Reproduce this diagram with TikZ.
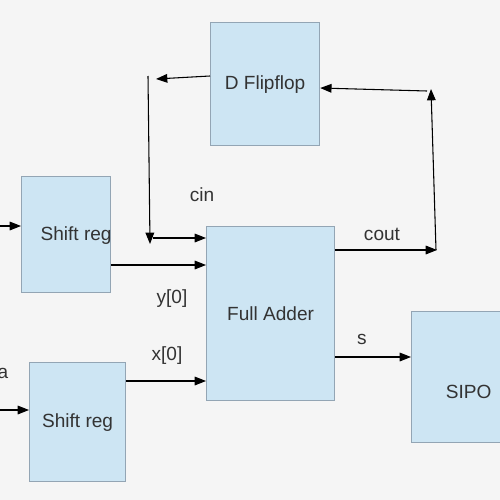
\documentclass[tikz,border=0pt]{standalone}
\usepackage{fontspec}
\setmainfont{Liberation Sans}
\usetikzlibrary{arrows.meta}
\definecolor{bg}{HTML}{F5F5F5}
\definecolor{boxfill}{HTML}{CDE5F3}
\definecolor{boxline}{HTML}{93A5B4}
\definecolor{txt}{HTML}{333333}
\begin{document}
\begin{tikzpicture}[x=0.75pt,y=-0.75pt,
  font=\fontsize{14.3}{17}\selectfont,
  blk/.style={draw=boxline,fill=boxfill,line width=0.9pt,inner sep=0pt,anchor=north west,text=txt},
  lbl/.style={text=txt,inner sep=0pt},
  arr/.style={line width=0.8pt,draw=black,-{Triangle[length=8.5pt,width=6.5pt]}},
  ln/.style={line width=0.8pt,draw=black}]
\useasboundingbox (0,0) rectangle (500,500);
\clip (0,0) rectangle (500,500);
\fill[bg] (0,0) rectangle (500,500);

\node[blk,minimum width={89*0.75pt},minimum height={116*0.75pt},
  label={[lbl,xshift={10*0.75pt},yshift={-1*0.75pt}]center:Shift reg}] (sr1) at (21,176) {};
\node[blk,minimum width={96*0.75pt},minimum height={119*0.75pt}] (sr2) at (29,362) {Shift reg};
\node[blk,minimum width={109*0.75pt},minimum height={123*0.75pt}] (dff) at (210,22) {D Flipflop};
\node[blk,minimum width={128*0.75pt},minimum height={174*0.75pt}] (fa) at (206,226) {Full Adder};
\node[blk,minimum width={114*0.75pt},minimum height={131*0.75pt},
  label={[lbl,yshift={-15*0.75pt}]center:SIPO}] (sipo) at (411,311) {};

\coordinate (in1) at (0,226);
\coordinate (in2) at (0,410);
\coordinate (ctop) at (148,76);
\coordinate (cbot) at (150,244);
\coordinate (cstart) at (153,238);
\coordinate (cout) at (437,250);
\coordinate (ctopr) at (431,89);

% inputs
\draw[arr] (in1) -- (sr1.west |- in1);
\draw[arr] (in2) -- (sr2.west |- in2);
% shift reg outputs
\draw[arr] (sr1.east |- 0,265) -- (fa.west |- 0,265);
\draw[arr] (sr2.east |- 0,381) -- (fa.west |- 0,381);
% flipflop output / cin
\draw[arr] (dff.west |- 0,76) -- (156,79);
\draw[arr] (ctop) -- (cbot);
\draw[arr] (cstart) -- (fa.west |- cstart);
% cout loop
\draw[arr] (fa.east |- cout) -- (cout);
\draw[arr] (436,250) -- (ctopr);
\draw[arr] (427,91) -- (dff.east |- 0,88);
% s
\draw[arr] (fa.east |- 0,357) -- (sipo.west |- 0,357);

% labels
\node[lbl] (lcin) at (202,195) {cin};
\node[lbl] (lcout) at (382,234) {cout};
\node[lbl] (ly) at (172,299) {y[0]};
\node[lbl] (lx) at (167,356) {x[0]};
\node[lbl] (ls) at (362,339) {s};
\node[lbl] (la) at (3,373) {a};
\end{tikzpicture}
\end{document}
